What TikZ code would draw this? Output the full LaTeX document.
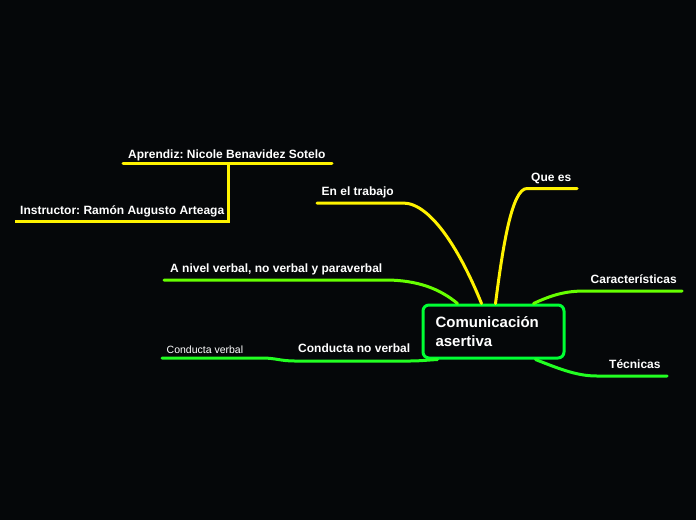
\documentclass[tikz,border=0pt]{standalone}
\usepackage{fontspec}
\setmainfont{Liberation Sans}
\usetikzlibrary{positioning,calc}
\definecolor{mapBg}{HTML}{050709}
\definecolor{mapYellow}{HTML}{FFF200}
\definecolor{mapLime}{HTML}{66FF00}
\definecolor{mapGreen}{HTML}{22FF22}
\definecolor{mapBox}{HTML}{00FF33}
\frenchspacing

\begin{document}
\begin{tikzpicture}[x=1pt, y=-1pt,
    every node/.style={text=white, inner sep=0pt},
    topic/.style={anchor=base west, font=\fontsize{12}{15}\selectfont\bfseries},
    subtopic/.style={anchor=base west, font=\fontsize{10.5}{13}\selectfont},
    rootbox/.style={draw=mapBox, line width=3pt, rounded corners=6pt,
                    minimum width=141pt, minimum height=53pt, text width=116pt,
                    inner xsep=12.5pt, align=left,
                    font=\fontsize{15}{18.5}\selectfont\bfseries},
    link/.style={line width=3pt, line cap=round},
  ]
  % background and size
  \fill[mapBg] (0,0) rectangle (696,520);
  \useasboundingbox (0,0) rectangle (696,520);

  % Central topic
  \node[rootbox] (main) at (493.5,331.5) {Comunicación\\asertiva};

  % Labels - yellow branches
  \node[topic] (que) at (531,181) {Que es};
  \node[topic] (trabajo) at (321.5,195) {En el trabajo};
  \node[topic] (aprendiz) at (128,158) {Aprendiz: Nicole Benavidez Sotelo};
  \node[topic] (instructor) at (20,214.5) {Instructor: Ramón Augusto Arteaga};

  % Labels - green branches
  \node[topic] (nivel) at (170,272) {A nivel verbal, no verbal y paraverbal};
  \node[topic] (carac) at (590.5,283) {Características};
  \node[topic] (tecnicas) at (609,368) {Técnicas};
  \node[topic] (noverbal) at (298,352) {Conducta no verbal};
  \node[subtopic] (verbal) at (166.5,353.5) {Conducta verbal};

  % Line ends
  \coordinate (queA) at (527,188.5);
  \coordinate (queB) at (577,188.5);
  \coordinate (trabA) at (403,203);
  \coordinate (trabB) at (317,203);
  \coordinate (aprA) at (123,163);
  \coordinate (aprB) at (332,163);
  \coordinate (aprJ) at (228,163);
  \coordinate (instJ) at (228,221);
  \coordinate (instB) at (15,221);
  \coordinate (nivA) at (385,280);
  \coordinate (nivB) at (164,280);
  \coordinate (carA) at (585,291);
  \coordinate (carB) at (682,291);
  \coordinate (tecA) at (597,376);
  \coordinate (tecB) at (667,376);
  \coordinate (noA) at (410,361);
  \coordinate (noB) at (295,361);
  \coordinate (verA) at (262,358);
  \coordinate (verB) at (162,358);

  % Yellow connectors
  \draw[link, mapYellow] ($(main.north west)+(74,0)$)
    .. controls (503,245) and (512,188.5) .. (queA) -- (queB);
  \draw[link, mapYellow] ($(main.north west)+(60,0)$)
    .. controls (462,255) and (432,203) .. (trabA) -- (trabB);
  \draw[link, mapYellow] (aprA) -- (aprB);
  \draw[link, mapYellow, line cap=butt] (aprJ) -- (instJ) -- (instB);

  % Green connectors
  \draw[link, mapLime] ($(main.north west)+(36,0)$)
    .. controls (440,289) and (418,280) .. (nivA) -- (nivB);
  \draw[link, mapLime] ($(main.north west)+(112,0)$)
    .. controls (552,295) and (565,291) .. (carA) -- (carB);
  \draw[link, mapGreen] ($(main.south west)+(114,0)$)
    .. controls (562,370) and (578,376) .. (tecA) -- (tecB);
  \draw[link, mapGreen] ($(main.south west)+(16,0)$)
    .. controls (428,360) and (420,361) .. (noA) -- (noB)
    .. controls (280,361) and (276,358) .. (verA) -- (verB);
\end{tikzpicture}
\end{document}
